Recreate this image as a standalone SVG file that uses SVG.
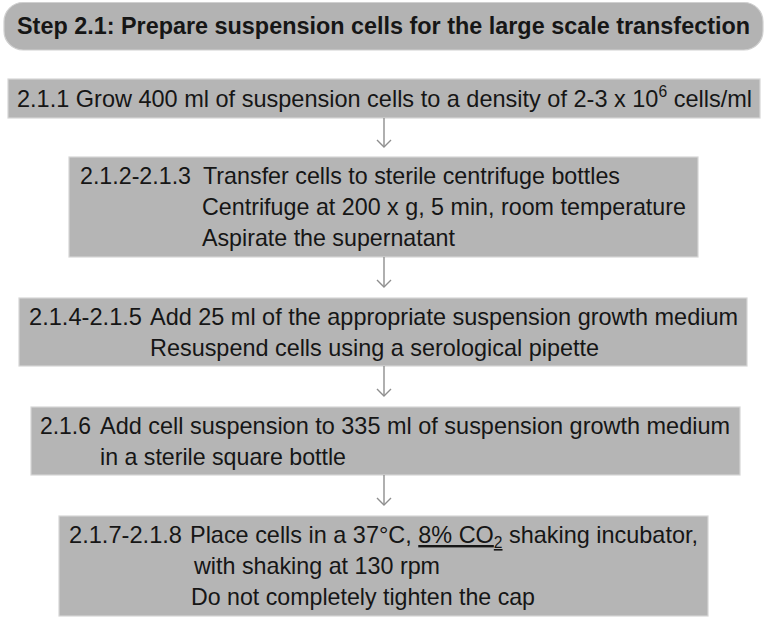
<svg xmlns="http://www.w3.org/2000/svg" width="768" height="619" viewBox="0 0 768 619">
<defs>
<style>
.box{fill:#b5b5b5;stroke:#d6d6d6;stroke-width:1.2}
.title{fill:#b3b3b3;stroke:#d0d0d0;stroke-width:1.2}
.t{font-family:"Liberation Sans",Arial,sans-serif;font-size:24px;fill:#161616}
.tb{font-family:"Liberation Sans",Arial,sans-serif;font-size:23.5px;font-weight:bold;fill:#161616}
.conn{stroke:#8e8e8e;stroke-width:1.4;fill:none}
</style>
<marker id="arr" viewBox="0 0 10 16" refX="9" refY="8" markerWidth="10" markerHeight="16" markerUnits="userSpaceOnUse" orient="auto">
<path d="M2,1 L9,8 L2,15" fill="none" stroke="#8e8e8e" stroke-width="1.4"/>
</marker>
</defs>
<rect width="768" height="619" fill="#ffffff"/>

<g id="title">
<rect class="title" x="4" y="2.5" width="759" height="47.5" rx="19" ry="19"/>
<text class="tb" x="17" y="34" textLength="733" lengthAdjust="spacingAndGlyphs">Step 2.1: Prepare suspension cells for the large scale transfection</text>
</g>

<g id="step-2-1-1">
<rect class="box" x="8" y="79" width="752" height="39"/>
<text class="t" x="17" y="107" textLength="735" lengthAdjust="spacingAndGlyphs">2.1.1 Grow 400 ml of suspension cells to a density of 2-3 x 10<tspan dy="-10" font-size="16">6</tspan><tspan dy="10"> cells/ml</tspan></text>
</g>

<g id="step-2-1-2">
<rect class="box" x="69" y="157" width="629" height="100"/>
<text class="t" x="80" y="184" textLength="111" lengthAdjust="spacingAndGlyphs">2.1.2-2.1.3</text>
<text class="t" x="203" y="184" textLength="417" lengthAdjust="spacingAndGlyphs">Transfer cells to sterile centrifuge bottles</text>
<text class="t" x="202" y="215" textLength="484" lengthAdjust="spacingAndGlyphs">Centrifuge at 200 x g, 5 min, room temperature</text>
<text class="t" x="202" y="246" textLength="253" lengthAdjust="spacingAndGlyphs">Aspirate the supernatant</text>
</g>

<g id="step-2-1-4">
<rect class="box" x="19" y="298" width="728" height="68"/>
<text class="t" x="29" y="325" textLength="113" lengthAdjust="spacingAndGlyphs">2.1.4-2.1.5</text>
<text class="t" x="150" y="325" textLength="588" lengthAdjust="spacingAndGlyphs">Add 25 ml of the appropriate suspension growth medium</text>
<text class="t" x="150" y="356" textLength="449" lengthAdjust="spacingAndGlyphs">Resuspend cells using a serological pipette</text>
</g>

<g id="step-2-1-6">
<rect class="box" x="31" y="407" width="709" height="68"/>
<text class="t" x="40" y="434" textLength="51" lengthAdjust="spacingAndGlyphs">2.1.6</text>
<text class="t" x="100" y="434" textLength="630" lengthAdjust="spacingAndGlyphs">Add cell suspension to 335 ml of suspension growth medium</text>
<text class="t" x="100" y="465" textLength="246" lengthAdjust="spacingAndGlyphs">in a sterile square bottle</text>
</g>

<g id="step-2-1-7">
<rect class="box" x="59" y="516" width="649" height="100"/>
<text class="t" x="69" y="543" textLength="113" lengthAdjust="spacingAndGlyphs">2.1.7-2.1.8</text>
<text class="t" x="190" y="543" textLength="508" lengthAdjust="spacingAndGlyphs">Place cells in a 37°C, <tspan text-decoration="underline">8% CO</tspan><tspan dy="5" font-size="16" text-decoration="underline">2</tspan><tspan dy="-5"> shaking incubator,</tspan></text>
<text class="t" x="194" y="574" textLength="246" lengthAdjust="spacingAndGlyphs">with shaking at 130 rpm</text>
<text class="t" x="191" y="605" textLength="344" lengthAdjust="spacingAndGlyphs">Do not completely tighten the cap</text>
</g>

<g id="connectors">
<path class="conn" d="M384,118 V147" marker-end="url(#arr)"/>
<path class="conn" d="M384,257 V287" marker-end="url(#arr)"/>
<path class="conn" d="M384,366 V396" marker-end="url(#arr)"/>
<path class="conn" d="M384,475 V505" marker-end="url(#arr)"/>
</g>
</svg>
